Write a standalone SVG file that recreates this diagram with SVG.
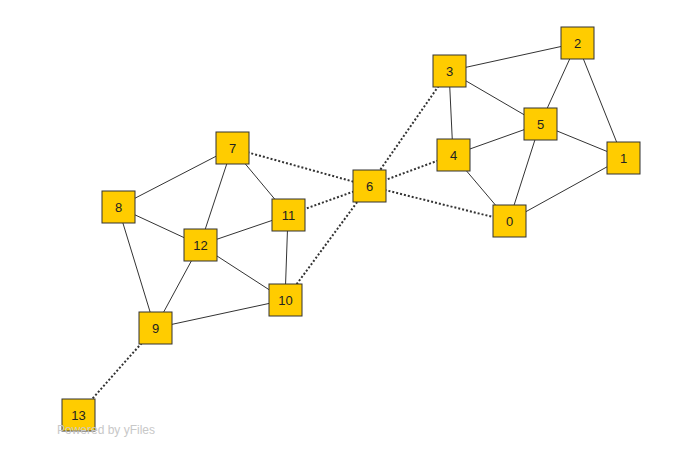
<svg xmlns="http://www.w3.org/2000/svg" width="674" height="457" viewBox="0 0 674 457">
<style>
.n rect{fill:#ffcc00;stroke:#333;stroke-width:1}
.n text{font-family:"Liberation Sans",Arial,sans-serif;font-size:13px;fill:#222;text-anchor:middle;dominant-baseline:central}
.s{stroke:#333;stroke-width:1;fill:none}
.d{stroke:#333;stroke-width:2;stroke-dasharray:2,2;fill:none}
</style>
<rect width="674" height="457" fill="#fff"/>
<g id="edges">
<line class="d" x1="155" y1="328" x2="78" y2="415"/>
<line class="d" x1="232" y1="148" x2="369" y2="186"/>
<line class="d" x1="369" y1="186" x2="449" y2="71"/>
<line class="d" x1="369" y1="186" x2="453" y2="155"/>
<line class="d" x1="369" y1="186" x2="509" y2="221"/>
<line class="d" x1="369" y1="186" x2="285" y2="300"/>
<line class="d" x1="369" y1="186" x2="288" y2="215"/>
<line class="s" x1="232" y1="148" x2="118" y2="207"/>
<line class="s" x1="232" y1="148" x2="200" y2="245"/>
<line class="s" x1="232" y1="148" x2="288" y2="215"/>
<line class="s" x1="118" y1="207" x2="200" y2="245"/>
<line class="s" x1="118" y1="207" x2="155" y2="328"/>
<line class="s" x1="200" y1="245" x2="288" y2="215"/>
<line class="s" x1="200" y1="245" x2="155" y2="328"/>
<line class="s" x1="200" y1="245" x2="285" y2="300"/>
<line class="s" x1="288" y1="215" x2="285" y2="300"/>
<line class="s" x1="155" y1="328" x2="285" y2="300"/>
<line class="s" x1="449" y1="71" x2="577" y2="43"/>
<line class="s" x1="449" y1="71" x2="540" y2="124"/>
<line class="s" x1="449" y1="71" x2="453" y2="155"/>
<line class="s" x1="453" y1="155" x2="540" y2="124"/>
<line class="s" x1="453" y1="155" x2="509" y2="221"/>
<line class="s" x1="540" y1="124" x2="577" y2="43"/>
<line class="s" x1="540" y1="124" x2="623" y2="158"/>
<line class="s" x1="540" y1="124" x2="509" y2="221"/>
<line class="s" x1="577" y1="43" x2="623" y2="158"/>
<line class="s" x1="509" y1="221" x2="623" y2="158"/>
</g>
<g id="n0" class="n"><rect x="493" y="205" width="33" height="32"/><text x="509.5" y="221">0</text></g>
<g id="n1" class="n"><rect x="607" y="142" width="33" height="32"/><text x="623.5" y="158">1</text></g>
<g id="n2" class="n"><rect x="561" y="27" width="33" height="32"/><text x="577.5" y="43">2</text></g>
<g id="n3" class="n"><rect x="433" y="55" width="33" height="32"/><text x="449.5" y="71">3</text></g>
<g id="n4" class="n"><rect x="437" y="139" width="33" height="32"/><text x="453.5" y="155">4</text></g>
<g id="n5" class="n"><rect x="524" y="108" width="33" height="32"/><text x="540.5" y="124">5</text></g>
<g id="n6" class="n"><rect x="353" y="170" width="33" height="32"/><text x="369.5" y="186">6</text></g>
<g id="n7" class="n"><rect x="216" y="132" width="33" height="32"/><text x="232.5" y="148">7</text></g>
<g id="n8" class="n"><rect x="102" y="191" width="33" height="32"/><text x="118.5" y="207">8</text></g>
<g id="n9" class="n"><rect x="139" y="312" width="33" height="32"/><text x="155.5" y="328">9</text></g>
<g id="n10" class="n"><rect x="269" y="284" width="33" height="32"/><text x="285.5" y="300">10</text></g>
<g id="n11" class="n"><rect x="272" y="199" width="33" height="32"/><text x="288.5" y="215">11</text></g>
<g id="n12" class="n"><rect x="184" y="229" width="33" height="32"/><text x="200.5" y="245">12</text></g>
<g id="n13" class="n"><rect x="62" y="399" width="33" height="32"/><text x="78.5" y="415">13</text></g>
<text x="57" y="434" font-family="Liberation Sans,Arial,sans-serif" font-size="12" fill="#c8c8c8">Powered by yFiles</text>
</svg>
